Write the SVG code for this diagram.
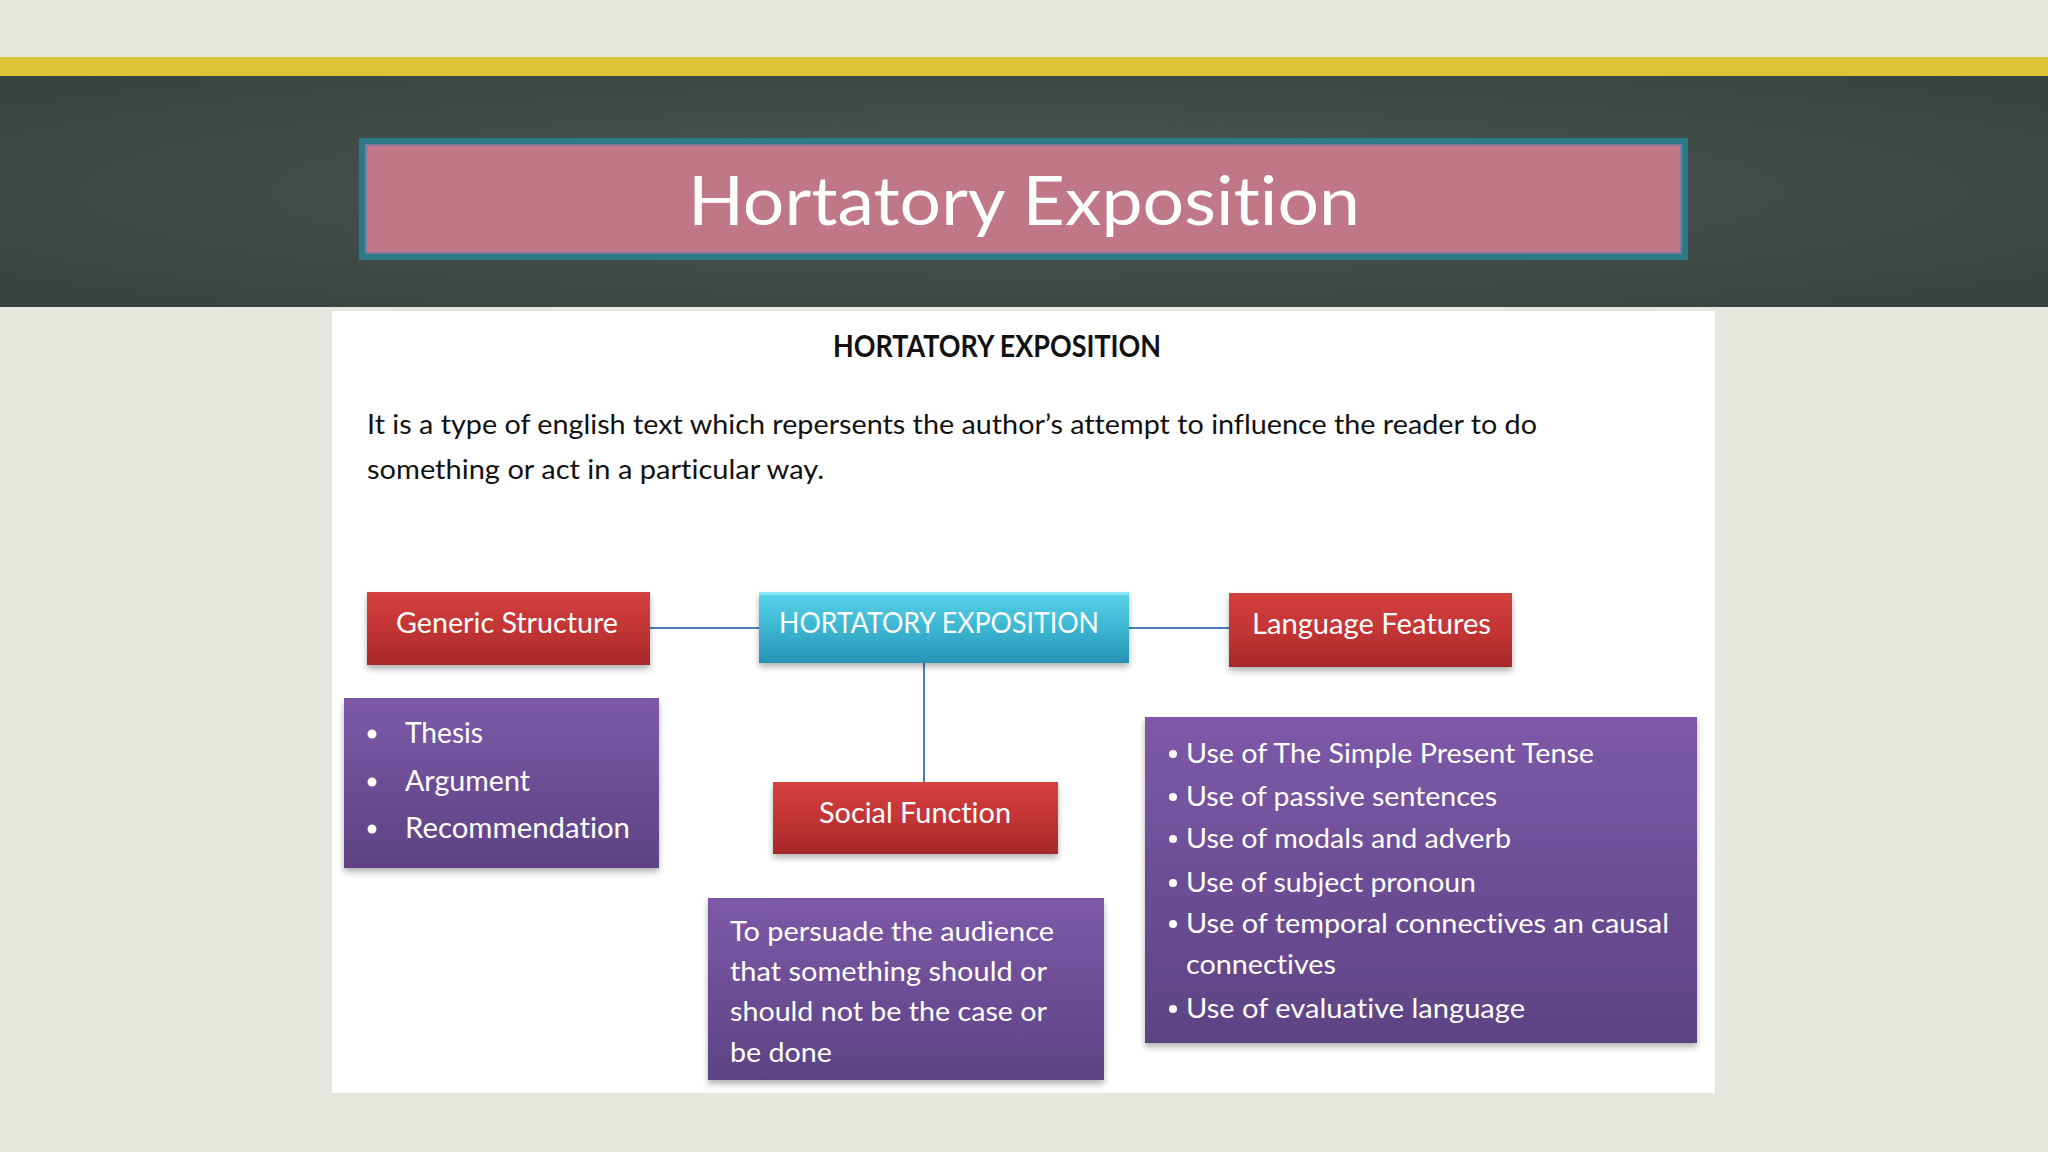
<svg xmlns="http://www.w3.org/2000/svg" width="2048" height="1152" viewBox="0 0 2048 1152">
<style>
.f{font-family:Lato,"Open Sans","Liberation Sans",sans-serif;font-variant-ligatures:none;}
.wt{fill:#ffffff;font-size:28px;}
.lt{fill:#ffffff;font-size:27px;}
.bk{fill:#111111;}
.conn{stroke:#4a7ebb;stroke-width:2;fill:none;}
</style>
<defs>
<linearGradient id="red" x1="0" y1="0" x2="0" y2="1">
<stop offset="0" stop-color="#d4403f"/><stop offset="0.5" stop-color="#c33534"/><stop offset="1" stop-color="#a52828"/>
</linearGradient>
<linearGradient id="teal" x1="0" y1="0" x2="0" y2="1">
<stop offset="0" stop-color="#5ad3e8"/><stop offset="0.5" stop-color="#3cb6d3"/><stop offset="1" stop-color="#2793b5"/>
</linearGradient>
<linearGradient id="purple" x1="0" y1="0" x2="0" y2="1">
<stop offset="0" stop-color="#7d59a8"/><stop offset="1" stop-color="#5d4383"/>
</linearGradient>
<radialGradient id="board" cx="0.5" cy="0.5" r="0.7">
<stop offset="0" stop-color="#4b5754"/><stop offset="1" stop-color="#384340"/>
</radialGradient>
<filter id="sh" x="-10%" y="-10%" width="120%" height="140%">
<feDropShadow dx="0" dy="4" stdDeviation="3" flood-color="#000000" flood-opacity="0.3"/>
</filter>
</defs>
<rect x="0" y="0" width="2048" height="1152" fill="#e5e8df"/>
<rect x="0" y="57" width="2048" height="20" fill="#dcc338"/>
<rect x="0" y="76" width="2048" height="231" fill="url(#board)"/>
<g id="title">
<rect x="362" y="141" width="1323" height="116" fill="#c07787" stroke="#2c7a87" stroke-width="6"/>
<rect x="366" y="145" width="1315" height="108" fill="none" stroke="#6f7aa3" stroke-width="1.5"/>
<text class="f" x="1024" y="225" text-anchor="middle" font-size="67" fill="#ffffff" textLength="672" lengthAdjust="spacingAndGlyphs">Hortatory Exposition</text>
</g>
<rect x="332" y="311" width="1383" height="782" fill="#ffffff"/>
<g id="heading">
<text class="f bk" x="997" y="357" text-anchor="middle" font-size="30" font-weight="bold" textLength="328" lengthAdjust="spacingAndGlyphs">HORTATORY EXPOSITION</text>
<text class="f bk" x="367" y="434" font-size="27" textLength="1170" lengthAdjust="spacingAndGlyphs">It is a type of english text which repersents the author’s attempt to influence the reader to do</text>
<text class="f bk" x="367" y="479" font-size="27" textLength="457" lengthAdjust="spacingAndGlyphs">something or act in a particular way.</text>
</g>
<g id="connectors">
<line class="conn" x1="650" y1="628" x2="759" y2="628"/>
<line class="conn" x1="1129" y1="628" x2="1229" y2="628"/>
<line class="conn" x1="924" y1="663" x2="924" y2="782"/>
</g>
<g id="generic-structure">
<rect x="367" y="592" width="283" height="73" fill="url(#red)" filter="url(#sh)"/>
<text class="f wt" x="396" y="633" textLength="222" lengthAdjust="spacingAndGlyphs">Generic Structure</text>
</g>
<g id="hortatory-exposition">
<rect x="759" y="592" width="370" height="71" fill="url(#teal)" filter="url(#sh)"/>
<rect x="759" y="592" width="370" height="3" fill="#8ae9f6"/>
<text class="f wt" x="779" y="633" textLength="320" lengthAdjust="spacingAndGlyphs">HORTATORY EXPOSITION</text>
</g>
<g id="language-features">
<rect x="1229" y="593" width="283" height="74" fill="url(#red)" filter="url(#sh)"/>
<text class="f wt" x="1252" y="634" textLength="239" lengthAdjust="spacingAndGlyphs">Language Features</text>
</g>
<g id="social-function">
<rect x="773" y="782" width="285" height="72" fill="url(#red)" filter="url(#sh)"/>
<text class="f wt" x="819" y="823" textLength="192" lengthAdjust="spacingAndGlyphs">Social Function</text>
</g>
<g id="structure-list">
<rect x="344" y="698" width="315" height="170" fill="url(#purple)" filter="url(#sh)"/>
<circle cx="372" cy="734" r="4.5" fill="#ffffff"/>
<circle cx="372" cy="782" r="4.5" fill="#ffffff"/>
<circle cx="372" cy="829" r="4.5" fill="#ffffff"/>
<text class="f wt" x="405" y="743" textLength="78" lengthAdjust="spacingAndGlyphs">Thesis</text>
<text class="f wt" x="405" y="791" textLength="125" lengthAdjust="spacingAndGlyphs">Argument</text>
<text class="f wt" x="405" y="838" textLength="225" lengthAdjust="spacingAndGlyphs">Recommendation</text>
</g>
<g id="function-text">
<rect x="708" y="898" width="396" height="182" fill="url(#purple)" filter="url(#sh)"/>
<text class="f lt" x="730" y="941" textLength="324" lengthAdjust="spacingAndGlyphs">To persuade the audience</text>
<text class="f lt" x="730" y="981" textLength="317" lengthAdjust="spacingAndGlyphs">that something should or</text>
<text class="f lt" x="730" y="1021" textLength="317" lengthAdjust="spacingAndGlyphs">should not be the case or</text>
<text class="f lt" x="730" y="1062" textLength="102" lengthAdjust="spacingAndGlyphs">be done</text>
</g>
<g id="features-list">
<rect x="1145" y="717" width="552" height="326" fill="url(#purple)" filter="url(#sh)"/>
<circle cx="1173" cy="754" r="4" fill="#ffffff"/>
<circle cx="1173" cy="797" r="4" fill="#ffffff"/>
<circle cx="1173" cy="839" r="4" fill="#ffffff"/>
<circle cx="1173" cy="883" r="4" fill="#ffffff"/>
<circle cx="1173" cy="924" r="4" fill="#ffffff"/>
<circle cx="1173" cy="1009" r="4" fill="#ffffff"/>
<text class="f lt" x="1186" y="763" textLength="408" lengthAdjust="spacingAndGlyphs">Use of The Simple Present Tense</text>
<text class="f lt" x="1186" y="806" textLength="311" lengthAdjust="spacingAndGlyphs">Use of passive sentences</text>
<text class="f lt" x="1186" y="848" textLength="325" lengthAdjust="spacingAndGlyphs">Use of modals and adverb</text>
<text class="f lt" x="1186" y="892" textLength="290" lengthAdjust="spacingAndGlyphs">Use of subject pronoun</text>
<text class="f lt" x="1186" y="933" textLength="483" lengthAdjust="spacingAndGlyphs">Use of temporal connectives an causal</text>
<text class="f lt" x="1186" y="974" textLength="150" lengthAdjust="spacingAndGlyphs">connectives</text>
<text class="f lt" x="1186" y="1018" textLength="339" lengthAdjust="spacingAndGlyphs">Use of evaluative language</text>
</g>
</svg>
